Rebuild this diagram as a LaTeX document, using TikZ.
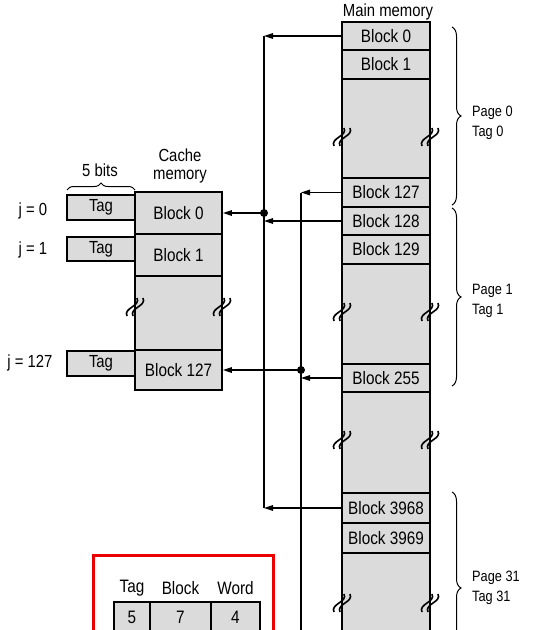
\documentclass[tikz,border=0pt]{standalone}
\usepackage{fontspec}
\setmainfont{Liberation Sans}[FakeStretch=0.85]
\usetikzlibrary{arrows.meta,decorations.pathreplacing}
\definecolor{cellgray}{gray}{0.86}
\definecolor{framered}{RGB}{235,0,0}
\newcommand\wavymark[2]{%
  \foreach \dd in {-3,3}{%
    \draw[brkline] ({#1+\dd-5},{#2+9}) .. controls ({#1+\dd-9},{#2+1}) and ({#1+\dd+9},{#2-1}) .. ({#1+\dd+5},{#2-9});}}
\begin{document}
\begin{tikzpicture}[x=1pt,y=-1pt,
  cell/.style={draw, line width=1.7pt, fill=cellgray, inner sep=0pt, minimum width=88pt, font=\fontsize{18}{20}\selectfont},
  ccell/.style={cell, minimum width=87pt},
  tagcell/.style={draw, line width=1.7pt, fill=cellgray, inner sep=0pt, minimum width=68pt, font=\fontsize{17.5}{18}\selectfont},
  fcell/.style={draw, line width=1.7pt, fill=cellgray, inner sep=0pt, minimum height=30pt, font=\fontsize{18}{20}\selectfont},
  lbl/.style={inner sep=0pt, font=\fontsize{17.5}{18}\selectfont, align=center},
  hdr/.style={inner sep=0pt, font=\fontsize{18}{20}\selectfont},
  plbl/.style={inner sep=0pt, font=\fontsize{15}{20}\selectfont, align=left, anchor=west},
  conn/.style={line width=1.3pt},
  arr/.style={conn, -{Triangle[length=9pt,width=5.5pt]}},
  dot/.style={circle, fill=black, inner sep=0pt, minimum size=8pt},
  brc/.style={decorate, decoration={brace, amplitude=#1}, line width=1pt},
  brkline/.style={line width=1.6pt},
]
\useasboundingbox (0,0) rectangle (533,630);
\clip (0,0) rectangle (533,630);

% ---- main memory ----
\node[lbl] (mmtitle) at (388,12) {Main memory};
\node[cell, minimum height=28pt] (mb0) at (386,36) {Block 0};
\node[cell, minimum height=29pt] (mb1) at (386,64.5) {Block 1};
\node[cell, minimum height=99pt] (mg1) at (386,128.5) {};
\node[cell, minimum height=29pt] (mb127) at (386,192.5) {Block 127};
\node[cell, minimum height=28pt] (mb128) at (386,221) {Block 128};
\node[cell, minimum height=29pt] (mb129) at (386,249.5) {Block 129};
\node[cell, minimum height=100pt] (mg2) at (386,314) {};
\node[cell, minimum height=28pt] (mb255) at (386,378) {Block 255};
\node[cell, minimum height=101pt] (mg3) at (386,442.5) {};
\node[cell, minimum height=30pt] (mb3968) at (386,508) {Block 3968};
\node[cell, minimum height=30pt] (mb3969) at (386,538) {Block 3969};
\node[cell, minimum height=90pt] (mg4) at (386,598) {};
\wavymark{342}{137}\wavymark{430}{137}
\wavymark{342}{312}\wavymark{430}{312}
\wavymark{342}{440}\wavymark{430}{440}
\wavymark{342}{603}\wavymark{430}{603}

% ---- braces right ----
\draw[brc=9pt] (452,27) -- (452,205);
\draw[brc=9pt] (452,208) -- (452,386);
\draw[brc=9pt] (452,492) -- (452,684);
\node[plbl] (p0) at (472,123) {Page 0\\Tag 0};
\node[plbl] (p1) at (472,301) {Page 1\\Tag 1};
\node[plbl] (p31) at (472,588) {Page 31\\Tag 31};

% ---- cache ----
\node[lbl] (cmtitle) at (180,166) {Cache\\memory};
\node[lbl] (bits) at (100,170) {5 bits};
\draw[brc=7pt] (67,190) -- (135,190);
\node[tagcell, minimum height=25pt] (t0) at (101,207.5) {Tag};
\node[tagcell, minimum height=24pt] (t1) at (101,249) {Tag};
\node[tagcell, minimum height=25pt] (t127) at (101,363.5) {Tag};
\node[ccell, minimum height=42pt] (c0) at (178.5,213) {Block 0};
\node[ccell, minimum height=42pt] (c1) at (178.5,255) {Block 1};
\node[ccell, minimum height=74pt] (cg) at (178.5,313) {};
\node[ccell, minimum height=40pt] (c127) at (178.5,370) {Block 127};
\wavymark{135}{307}\wavymark{222}{307}
\node[lbl] (j0) at (33,211) {j = 0};
\node[lbl] (j1) at (33,250) {j = 1};
\node[lbl] (j127) at (30,363) {j = 127};

% ---- connectors ----
\coordinate (bus1) at (264,0);
\coordinate (bus2) at (301,0);
\coordinate (bus2end) at (301,640);
\draw[conn] (mb0.west -| bus1) -- (mb3968.west -| bus1);
\draw[conn] (mb127.west -| bus2) -- (bus2end);
\draw[arr] (mb0.west) -- (mb0.west -| bus1);
\draw[arr] (mb128.west) -- (mb128.west -| bus1);
\draw[arr] (mb3968.west) -- (mb3968.west -| bus1);
\draw[arr] (mb127.west) -- (mb127.west -| bus2);
\draw[arr] (mb255.west) -- (mb255.west -| bus2);
\node[dot] (d1) at (c0.east -| bus1) {};
\node[dot] (d2) at (c127.east -| bus2) {};
\draw[arr] (d1.center) -- (c0.east);
\draw[arr] (d2.center) -- (c127.east);

% ---- address format ----
\node[draw=framered, line width=2.6pt, minimum width=180pt, minimum height=100pt, anchor=north west, inner sep=0pt] (frame) at (92,554) {};
\node[hdr] (htag) at (132,588) {Tag};
\node[hdr] (hblock) at (180.5,588) {Block};
\node[hdr] (hword) at (235.5,588) {Word};
\node[fcell, minimum width=36pt] (f1) at (132,617) {5};
\node[fcell, minimum width=61pt] (f2) at (180.5,617) {7};
\node[fcell, minimum width=49pt] (f3) at (235.5,617) {4};
\end{tikzpicture}
\end{document}
